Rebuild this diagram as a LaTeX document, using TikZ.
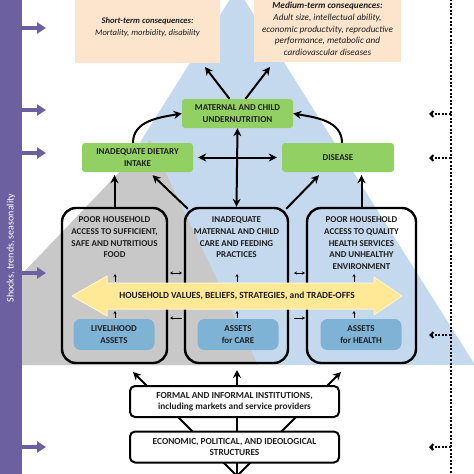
\documentclass[tikz,border=0pt]{standalone}
\usepackage{fontspec}
\setmainfont{Carlito}
\usetikzlibrary{arrows.meta}
\definecolor{shock}{RGB}{108,96,160}
\definecolor{peach}{RGB}{252,228,205}
\definecolor{pyramid}{RGB}{197,217,238}
\definecolor{foodgray}{RGB}{200,200,200}
\definecolor{outgreen}{RGB}{146,208,100}
\definecolor{assetblue}{RGB}{127,179,213}
\definecolor{valyellow}{RGB}{255,232,150}
\definecolor{ink}{RGB}{30,30,30}
\begin{document}
\begin{tikzpicture}[x=1pt, y=-1pt, line join=round, >={Stealth[length=8pt,width=8pt]},
  every node/.style={text=ink, inner sep=0pt},
  conseq/.style={fill=peach, align=center, font=\fontsize{9.2}{11.6}\selectfont\itshape},
  outcome/.style={fill=outgreen, rounded corners=3pt, align=center, minimum height=29pt, font=\fontsize{9}{11.7}\selectfont\bfseries},
  cause/.style={draw=black, line width=2.4pt, rounded corners=14pt, minimum height=155pt},
  causetext/.style={anchor=north, align=center, font=\fontsize{9}{11.7}\selectfont\bfseries},
  asset/.style={fill=assetblue, rounded corners=7pt, minimum height=31pt, minimum width=81pt, align=center, font=\fontsize{9}{11.7}\selectfont\bfseries},
  basic/.style={draw=black, fill=white, line width=2pt, rounded corners=5pt, minimum width=209pt, minimum height=31pt, align=center, font=\fontsize{9.3}{10.5}\selectfont\bfseries},
  link/.style={->, line width=2pt},
  tiny/.style={-{Stealth[length=3pt,width=3pt]}, line width=0.9pt},
  tinyboth/.style={{Stealth[length=3pt,width=3pt]}-{Stealth[length=3pt,width=3pt]}, line width=0.9pt},
  shockarrow/.style={-{Triangle[length=9pt,width=11pt]}, line width=4pt, draw=shock},
  dotline/.style={line width=2pt, dash pattern=on 2pt off 1.6pt},
  dotarrow/.style={dotline, -{Straight Barb[length=3pt,width=6pt]}}
]
\useasboundingbox (0,0) rectangle (474,474);
% background pyramids
\path (237,-12) coordinate (apex) (0,365) coordinate (baseL) (475,365) coordinate (baseR)
  (150,140) coordinate (foodtop) (258,365) coordinate (foodR) (0,297) coordinate (foodL);
\fill[pyramid] (apex) -- (baseR) -- (baseL) -- cycle;
\fill[foodgray] (foodtop) -- (foodR) -- (0,365) -- (foodL) -- cycle;

% shocks bar
\fill[shock] (0,-1) rectangle (22,475);
\node[rotate=90, text=white, font=\fontsize{10}{12}\selectfont] (shocks) at (11,248) {Shocks, trends, seasonality};
\foreach \y in {28,110,153,273,447} {
  \path (22,\y) coordinate (sa\y) (46,\y) coordinate (sb\y);
  \draw[shockarrow] (sa\y) -- (sb\y);
}

% consequences
\node[conseq, minimum width=145pt, minimum height=72pt, font=\fontsize{8.6}{11.6}\selectfont\itshape] (short) at (147.5,27)
  {\textbf{Short-term consequences:}\\Mortality, morbidity, disability};
\node[conseq, minimum width=147pt, minimum height=66pt] (medium) at (327.5,29)
  {\textbf{Medium-term consequences:}\\Adult size, intellectual ability,\\economic productvity, reproductive\\performance, metabolic and\\cardiovascular diseases};

% outcomes
\node[outcome, minimum width=111pt] (undernut) at (237.5,113.5) {MATERNAL AND CHILD\\UNDERNUTRITION};
\node[outcome, minimum width=111pt] (diet) at (137.5,157.5) {INADEQUATE DIETARY\\INTAKE};
\node[outcome, minimum width=112pt] (disease) at (338,157.5) {DISEASE};

% underlying causes
\node[cause, minimum width=105pt] (food) at (114.5,285.5) {};
\node[cause, minimum width=103pt] (care) at (236.5,285.5) {};
\node[cause, minimum width=109pt] (health) at (361.5,285.5) {};
\node[causetext] (foodtxt) at (114.5,216.5) {POOR HOUSEHOLD\\ACCESS TO SUFFICIENT,\\SAFE AND NUTRITIOUS\\FOOD};
\node[causetext] (caretxt) at (236.5,216.5) {INADEQUATE\\MATERNAL AND CHILD\\CARE AND FEEDING\\PRACTICES};
\node[causetext] (healthtxt) at (361.5,216.5) {POOR HOUSEHOLD\\ACCESS TO QUALITY\\HEALTH SERVICES\\AND UNHEALTHY\\ENVIRONMENT};
\node[asset] (livelihood) at (114,334.5) {LIVELIHOOD\\ASSETS};
\node[asset] (careassets) at (238,334.5) {ASSETS\\for CARE};
\node[asset] (healthassets) at (361,334.5) {ASSETS\\for HEALTH};

% household values arrow
\draw[fill=valyellow, draw=valyellow!50!white, line width=1pt] (72,296) -- (107,276) -- (107,283) -- (374,283) -- (374,277)
  -- (402,296) -- (374,315) -- (374,309) -- (107,309) -- (107,316) -- cycle;
\node[font=\fontsize{9.4}{10}\selectfont\bfseries] (values) at (237,296) {HOUSEHOLD VALUES, BELIEFS, STRATEGIES, and TRADE-OFFS};
\foreach \x/\n in {115/f,237/c,354/h} {
  \path (\x,282) coordinate (\n1) (\x,274) coordinate (\n2) (\x,318) coordinate (\n3) (\x,311) coordinate (\n4);
  \draw[tiny] (\n1) -- (\n2);
  \draw[tiny] (\n3) -- (\n4);
}
\path (170,273) coordinate (fc1) (182,273) coordinate (fc2) (170,318) coordinate (fc3) (182,318) coordinate (fc4)
  (294,273) coordinate (ch1) (305,273) coordinate (ch2) (294,318) coordinate (ch3) (305,318) coordinate (ch4);
\draw[tinyboth] (fc1) -- (fc2);
\draw[tiny] (fc4) -- (fc3);
\draw[tinyboth] (ch1) -- (ch2);
\draw[tiny] (ch3) -- (ch4);

% links between levels
\path (205,67) coordinate (shortin) (270,67) coordinate (mediumin);
\draw[link] ([xshift=-8pt]undernut.north) -- (shortin);
\draw[link] ([xshift=8pt]undernut.north) -- (mediumin);
\draw[link] ([xshift=-4.5pt]diet.north) to[out=90,in=190] (undernut.west);
\draw[link] ([xshift=4pt]disease.north) to[out=90,in=-10] (undernut.east);
\draw[link,<->] (undernut.south) -- (care.north);
\draw[link,<->] ([xshift=5pt]diet.east) -- ([xshift=-5pt]disease.west);
\draw[link, shorten >=3pt] (food.north) -- (food.north |- diet.south);
\draw[link] ([xshift=4pt,yshift=-2pt]care.north west) -- ([xshift=15pt,yshift=-3pt]diet.south);
\draw[link] ([xshift=-3pt,yshift=-2pt]care.north east) -- ([xshift=-19pt,yshift=-3pt]disease.south);
\draw[link, shorten >=3pt] (health.north) -- (health.north |- disease.south);

% basic causes
\path (237,476) coordinate (root) (133,372) coordinate (toFood) (237,370) coordinate (toCare) (341,372) coordinate (toHealth);
\draw[link] (root) -- (toFood);
\draw[link] (root) -- (toCare);
\draw[link] (root) -- (toHealth);
\node[basic] (inst) at (234.5,401.5) {FORMAL AND INFORMAL INSTITUTIONS,\\including markets and service providers};
\node[basic] (struct) at (234.5,447) {ECONOMIC, POLITICAL, AND IDEOLOGICAL\\STRUCTURES};

% context line
\path (451,-1) coordinate (ctxtop) (451,475) coordinate (ctxbot);
\draw[dotline] (ctxtop) -- (ctxbot);
\foreach \y in {114,158,335,447} {
  \path (451,\y) coordinate (ca\y) (429,\y) coordinate (cb\y);
  \draw[dotarrow] (ca\y) -- (cb\y);
}
\end{tikzpicture}
\end{document}
